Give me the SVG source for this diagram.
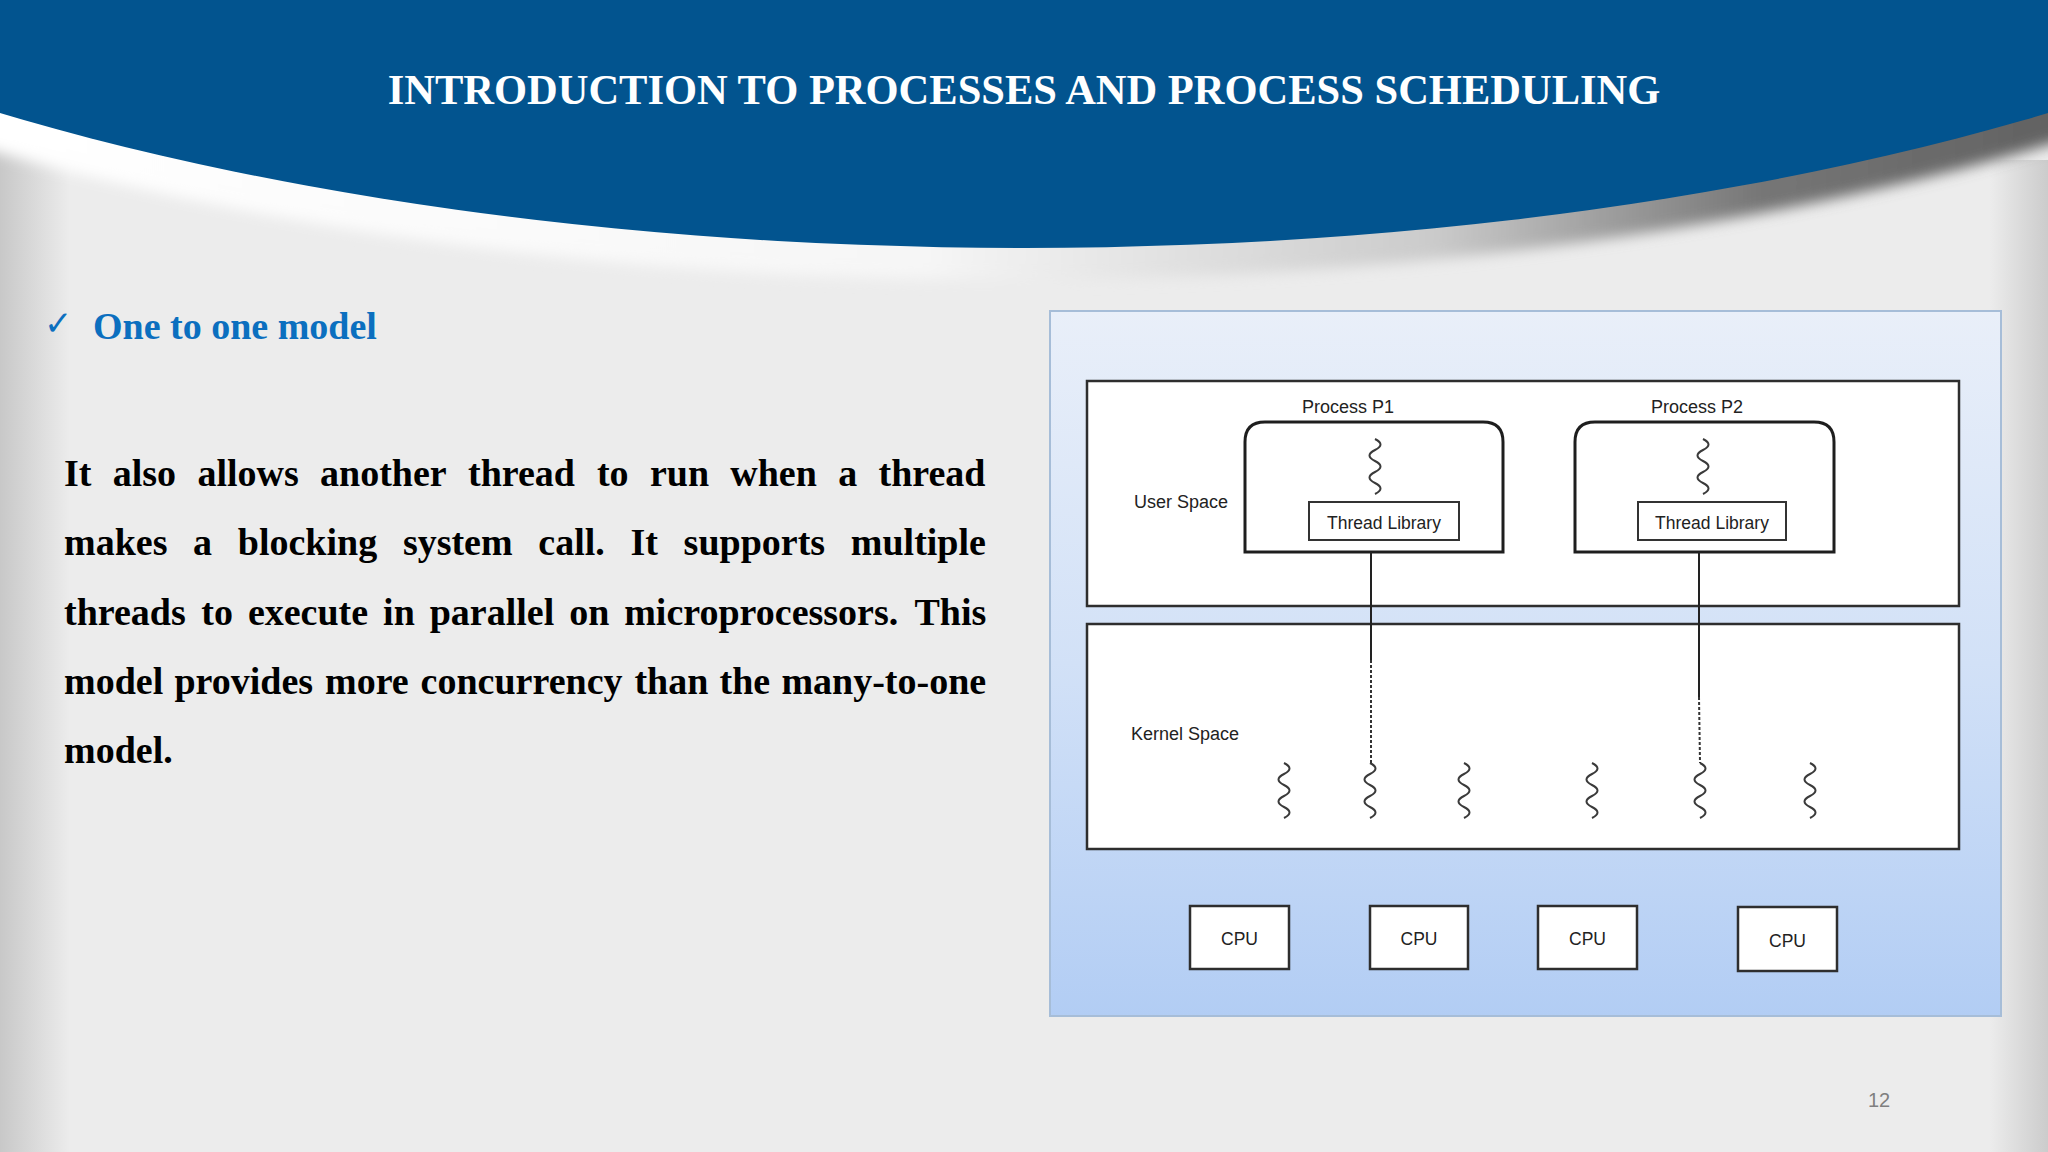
<svg xmlns="http://www.w3.org/2000/svg" xmlns:xlink="http://www.w3.org/1999/xlink" width="2048" height="1152" viewBox="0 0 2048 1152">
<style>
.title{font-family:"Liberation Serif","Times New Roman",serif;font-weight:bold;font-size:42.5px;fill:#ffffff}
.sub{font-family:"Liberation Serif","Times New Roman",serif;font-weight:bold;font-size:38px;fill:#0b6fbf}
.body{font-family:"Liberation Serif","Times New Roman",serif;font-weight:bold;font-size:38px;fill:#000000}
.lbl{font-family:"Liberation Sans",Arial,sans-serif;font-size:18px;fill:#222222}
.small{font-family:"Liberation Sans",Arial,sans-serif;font-size:17.5px;fill:#222222}
.box{fill:#ffffff;stroke:#2e2e2e;stroke-width:2.5}
.proc{fill:#ffffff;stroke:#1e1e1e;stroke-width:3}
.tl{fill:#ffffff;stroke:#333333;stroke-width:2}
.cpu{fill:#ffffff;stroke:#2e2e2e;stroke-width:2.5}
.wave{fill:none;stroke:#3a3a3a;stroke-width:2}
.conn{fill:none;stroke:#222222;stroke-width:2}
.dash{fill:none;stroke:#333333;stroke-width:2;stroke-dasharray:3 2}
</style>
<defs>
<linearGradient id="swoosh" gradientUnits="userSpaceOnUse" x1="0" y1="0" x2="2048" y2="0">
<stop offset="0" stop-color="#ffffff"/>
<stop offset="0.45" stop-color="#f6f6f6"/>
<stop offset="0.7" stop-color="#cbcbcb"/>
<stop offset="0.86" stop-color="#767676"/>
<stop offset="1" stop-color="#626262"/>
</linearGradient>
<linearGradient id="leftV" x1="0" y1="0" x2="1" y2="0">
<stop offset="0" stop-color="#c4c4c4" stop-opacity="0.9"/>
<stop offset="1" stop-color="#c4c4c4" stop-opacity="0"/>
</linearGradient>
<linearGradient id="rightV" x1="1" y1="0" x2="0" y2="0">
<stop offset="0" stop-color="#c8c8c8" stop-opacity="0.9"/>
<stop offset="1" stop-color="#c8c8c8" stop-opacity="0"/>
</linearGradient>
<linearGradient id="panelG" x1="0" y1="0" x2="0" y2="1">
<stop offset="0" stop-color="#e9eff9"/>
<stop offset="0.5" stop-color="#d2e1f7"/>
<stop offset="1" stop-color="#b2cdf4"/>
</linearGradient>
<filter id="blur" x="-10%" y="-10%" width="120%" height="130%">
<feGaussianBlur stdDeviation="7"/>
</filter>
<path id="wavePath" class="wave" d="M0,0 q11,5.5 0,11 t0,11 t0,11 t0,11 t0,11"/>
</defs>

<!-- background -->
<rect x="0" y="0" width="2048" height="1152" fill="#ececec"/>
<rect x="0" y="0" width="70" height="1152" fill="url(#leftV)"/>
<rect x="1990" y="160" width="58" height="992" fill="url(#rightV)"/>

<!-- header -->
<g id="header">
<ellipse cx="1010" cy="-370" rx="1700" ry="650" fill="url(#swoosh)" filter="url(#blur)"/>
<ellipse cx="1024" cy="-402" rx="1679" ry="650" fill="#02548f"/>
<text class="title" x="1024" y="104" text-anchor="middle">INTRODUCTION TO PROCESSES AND PROCESS SCHEDULING</text>
</g>

<!-- left text -->
<g id="subtitle">
<text x="44" y="335" font-family="DejaVu Sans, sans-serif" font-size="34" fill="#0b6fbf">✓</text>
<text class="sub" x="93" y="339">One to one model</text>
</g>
<g id="body-text">
<text class="body" y="486"><tspan x="64">It</tspan><tspan x="112.7">also</tspan><tspan x="197.4">allows</tspan><tspan x="320">another</tspan><tspan x="468">thread</tspan><tspan x="596.9">to</tspan><tspan x="649.9">run</tspan><tspan x="730.3">when</tspan><tspan x="838.2">a</tspan><tspan x="878.5">thread</tspan></text>
<text class="body" y="555.3"><tspan x="64">makes</tspan><tspan x="193.1">a</tspan><tspan x="237.8">blocking</tspan><tspan x="402.9">system</tspan><tspan x="538.3">call.</tspan><tspan x="630.5">It</tspan><tspan x="683.6">supports</tspan><tspan x="850.8">multiple</tspan></text>
<text class="body" y="624.5"><tspan x="64">threads</tspan><tspan x="201.3">to</tspan><tspan x="247.9">execute</tspan><tspan x="383.1">in</tspan><tspan x="429.7">parallel</tspan><tspan x="569.2">on</tspan><tspan x="624.2">microprocessors.</tspan><tspan x="914.5">This</tspan></text>
<text class="body" y="693.8"><tspan x="64">model</tspan><tspan x="174.4">provides</tspan><tspan x="325">more</tspan><tspan x="420.6">concurrency</tspan><tspan x="634.4">than</tspan><tspan x="719.5">the</tspan><tspan x="781.4">many-to-one</tspan></text>
<text class="body" x="64" y="763">model.</text>
</g>

<!-- diagram panel -->
<g id="panel">
<rect x="1050" y="311" width="951" height="705" fill="url(#panelG)" stroke="#a6bdd8" stroke-width="2"/>
</g>

<g id="user-space">
<rect class="box" x="1087" y="381" width="872" height="225"/>
<text class="lbl" x="1134" y="508">User Space</text>
</g>

<g id="kernel-space">
<rect class="box" x="1087" y="624" width="872" height="225"/>
<text class="lbl" x="1131" y="740">Kernel Space</text>
</g>

<g id="process-p1">
<text class="lbl" x="1348" y="413" text-anchor="middle">Process P1</text>
<path class="proc" d="M1245,552 V442 Q1245,422 1265,422 H1483 Q1503,422 1503,442 V552 Z"/>
<use xlink:href="#wavePath" href="#wavePath" x="1375" y="439"/>
</g>
<g id="thread-library-p1">
<rect class="tl" x="1309" y="502" width="150" height="38"/>
<text class="small" x="1384" y="529" text-anchor="middle">Thread Library</text>
</g>

<g id="process-p2">
<text class="lbl" x="1697" y="413" text-anchor="middle">Process P2</text>
<path class="proc" d="M1575,552 V442 Q1575,422 1595,422 H1814 Q1834,422 1834,442 V552 Z"/>
<use xlink:href="#wavePath" href="#wavePath" x="1703" y="439"/>
</g>
<g id="thread-library-p2">
<rect class="tl" x="1638" y="502" width="148" height="38"/>
<text class="small" x="1712" y="529" text-anchor="middle">Thread Library</text>
</g>

<g id="kernel-threads">
<use xlink:href="#wavePath" href="#wavePath" x="1284" y="763"/>
<use xlink:href="#wavePath" href="#wavePath" x="1370" y="763"/>
<use xlink:href="#wavePath" href="#wavePath" x="1464" y="763"/>
<use xlink:href="#wavePath" href="#wavePath" x="1592" y="763"/>
<use xlink:href="#wavePath" href="#wavePath" x="1700" y="763"/>
<use xlink:href="#wavePath" href="#wavePath" x="1810" y="763"/>
</g>

<g id="connectors">
<line class="conn" x1="1371" y1="552" x2="1371" y2="660"/>
<line class="dash" x1="1371" y1="660" x2="1371" y2="763"/>
<line class="conn" x1="1699" y1="552" x2="1699" y2="697"/>
<line class="dash" x1="1699" y1="697" x2="1700" y2="763"/>
</g>

<g id="cpu1"><rect class="cpu" x="1190" y="906" width="99" height="63"/><text class="small" x="1239.5" y="945" text-anchor="middle">CPU</text></g>
<g id="cpu2"><rect class="cpu" x="1370" y="906" width="98" height="63"/><text class="small" x="1419" y="945" text-anchor="middle">CPU</text></g>
<g id="cpu3"><rect class="cpu" x="1538" y="906" width="99" height="63"/><text class="small" x="1587.5" y="945" text-anchor="middle">CPU</text></g>
<g id="cpu4"><rect class="cpu" x="1738" y="907" width="99" height="64"/><text class="small" x="1787.5" y="947" text-anchor="middle">CPU</text></g>

<g id="page-number">
<text x="1879" y="1107" text-anchor="middle" font-family="Liberation Sans, Arial, sans-serif" font-size="20" fill="#7f7f7f">12</text>
</g>
</svg>
